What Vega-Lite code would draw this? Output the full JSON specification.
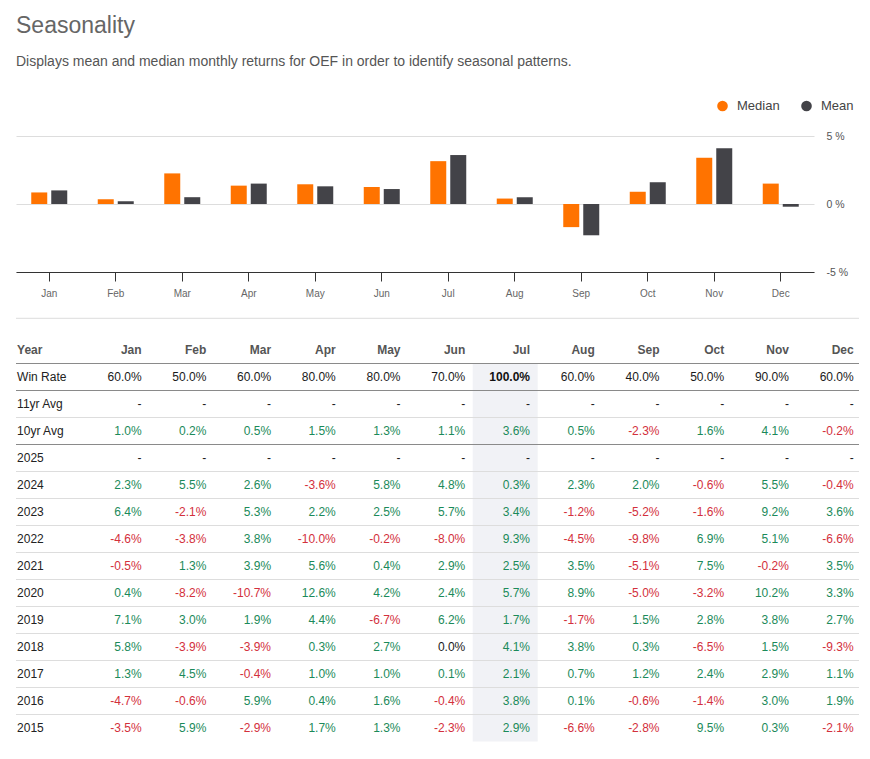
{
"$schema": "https://vega.github.io/schema/vega-lite/v6.json",
"background": "white",
"padding": {"left": 15, "top": 15, "right": 10, "bottom": 10},
"bounds": "flush",
"spacing": 64.5,
"title": {"text": "Seasonality", "subtitle": "Displays mean and median monthly returns for OEF in order to identify seasonal patterns.", "anchor": "start", "frame": "group", "fontSize": 23, "fontWeight": "normal", "color": "#666666", "subtitleFontSize": 14, "subtitleColor": "#555555", "subtitlePadding": 17, "offset": 30, "dx": 0, "font": "Liberation Sans", "subtitleFont": "Liberation Sans"},
"datasets": {
"bars": [
{"month":"Jan","series":"Median","value":0.85},{"month":"Jan","series":"Mean","value":1.0},
{"month":"Feb","series":"Median","value":0.35},{"month":"Feb","series":"Mean","value":0.2},
{"month":"Mar","series":"Median","value":2.25},{"month":"Mar","series":"Mean","value":0.5},
{"month":"Apr","series":"Median","value":1.35},{"month":"Apr","series":"Mean","value":1.5},
{"month":"May","series":"Median","value":1.45},{"month":"May","series":"Mean","value":1.3},
{"month":"Jun","series":"Median","value":1.25},{"month":"Jun","series":"Mean","value":1.1},
{"month":"Jul","series":"Median","value":3.15},{"month":"Jul","series":"Mean","value":3.6},
{"month":"Aug","series":"Median","value":0.4},{"month":"Aug","series":"Mean","value":0.5},
{"month":"Sep","series":"Median","value":-1.7},{"month":"Sep","series":"Mean","value":-2.3},
{"month":"Oct","series":"Median","value":0.9},{"month":"Oct","series":"Mean","value":1.6},
{"month":"Nov","series":"Median","value":3.4},{"month":"Nov","series":"Mean","value":4.1},
{"month":"Dec","series":"Median","value":1.5},{"month":"Dec","series":"Mean","value":-0.2}
],
"lines": [
{"row":"Header","kind":"sep"},
{"row":"Win Rate","kind":"dark"},{"row":"11yr Avg","kind":"dark"},{"row":"2025","kind":"dark"},
{"row":"10yr Avg","kind":"light"},{"row":"2024","kind":"light"},{"row":"2023","kind":"light"},{"row":"2022","kind":"light"},{"row":"2021","kind":"light"},{"row":"2020","kind":"light"},{"row":"2019","kind":"light"},{"row":"2018","kind":"light"},{"row":"2017","kind":"light"},{"row":"2016","kind":"light"},{"row":"2015","kind":"light"}
],
"cells": [
{"row":"Header","col":"Year","text":"Year","tone":"headL"},
{"row":"Header","col":"Jan","text":"Jan","tone":"head"},{"row":"Header","col":"Feb","text":"Feb","tone":"head"},{"row":"Header","col":"Mar","text":"Mar","tone":"head"},{"row":"Header","col":"Apr","text":"Apr","tone":"head"},{"row":"Header","col":"May","text":"May","tone":"head"},{"row":"Header","col":"Jun","text":"Jun","tone":"head"},{"row":"Header","col":"Jul","text":"Jul","tone":"head"},{"row":"Header","col":"Aug","text":"Aug","tone":"head"},{"row":"Header","col":"Sep","text":"Sep","tone":"head"},{"row":"Header","col":"Oct","text":"Oct","tone":"head"},{"row":"Header","col":"Nov","text":"Nov","tone":"head"},{"row":"Header","col":"Dec","text":"Dec","tone":"head"},

{"row":"Win Rate","col":"Year","text":"Win Rate","tone":"yr"},
{"row":"Win Rate","col":"Jan","text":"60.0%","tone":"z"},{"row":"Win Rate","col":"Feb","text":"50.0%","tone":"z"},{"row":"Win Rate","col":"Mar","text":"60.0%","tone":"z"},{"row":"Win Rate","col":"Apr","text":"80.0%","tone":"z"},{"row":"Win Rate","col":"May","text":"80.0%","tone":"z"},{"row":"Win Rate","col":"Jun","text":"70.0%","tone":"z"},{"row":"Win Rate","col":"Jul","text":"100.0%","tone":"b"},{"row":"Win Rate","col":"Aug","text":"60.0%","tone":"z"},{"row":"Win Rate","col":"Sep","text":"40.0%","tone":"z"},{"row":"Win Rate","col":"Oct","text":"50.0%","tone":"z"},{"row":"Win Rate","col":"Nov","text":"90.0%","tone":"z"},{"row":"Win Rate","col":"Dec","text":"60.0%","tone":"z"},

{"row":"11yr Avg","col":"Year","text":"11yr Avg","tone":"yr"},
{"row":"11yr Avg","col":"Jan","text":"-","tone":"z"},{"row":"11yr Avg","col":"Feb","text":"-","tone":"z"},{"row":"11yr Avg","col":"Mar","text":"-","tone":"z"},{"row":"11yr Avg","col":"Apr","text":"-","tone":"z"},{"row":"11yr Avg","col":"May","text":"-","tone":"z"},{"row":"11yr Avg","col":"Jun","text":"-","tone":"z"},{"row":"11yr Avg","col":"Jul","text":"-","tone":"z"},{"row":"11yr Avg","col":"Aug","text":"-","tone":"z"},{"row":"11yr Avg","col":"Sep","text":"-","tone":"z"},{"row":"11yr Avg","col":"Oct","text":"-","tone":"z"},{"row":"11yr Avg","col":"Nov","text":"-","tone":"z"},{"row":"11yr Avg","col":"Dec","text":"-","tone":"z"},

{"row":"10yr Avg","col":"Year","text":"10yr Avg","tone":"yr"},
{"row":"10yr Avg","col":"Jan","text":"1.0%","tone":"p"},{"row":"10yr Avg","col":"Feb","text":"0.2%","tone":"p"},{"row":"10yr Avg","col":"Mar","text":"0.5%","tone":"p"},{"row":"10yr Avg","col":"Apr","text":"1.5%","tone":"p"},{"row":"10yr Avg","col":"May","text":"1.3%","tone":"p"},{"row":"10yr Avg","col":"Jun","text":"1.1%","tone":"p"},{"row":"10yr Avg","col":"Jul","text":"3.6%","tone":"p"},{"row":"10yr Avg","col":"Aug","text":"0.5%","tone":"p"},{"row":"10yr Avg","col":"Sep","text":"-2.3%","tone":"n"},{"row":"10yr Avg","col":"Oct","text":"1.6%","tone":"p"},{"row":"10yr Avg","col":"Nov","text":"4.1%","tone":"p"},{"row":"10yr Avg","col":"Dec","text":"-0.2%","tone":"n"},

{"row":"2025","col":"Year","text":"2025","tone":"yr"},
{"row":"2025","col":"Jan","text":"-","tone":"z"},{"row":"2025","col":"Feb","text":"-","tone":"z"},{"row":"2025","col":"Mar","text":"-","tone":"z"},{"row":"2025","col":"Apr","text":"-","tone":"z"},{"row":"2025","col":"May","text":"-","tone":"z"},{"row":"2025","col":"Jun","text":"-","tone":"z"},{"row":"2025","col":"Jul","text":"-","tone":"z"},{"row":"2025","col":"Aug","text":"-","tone":"z"},{"row":"2025","col":"Sep","text":"-","tone":"z"},{"row":"2025","col":"Oct","text":"-","tone":"z"},{"row":"2025","col":"Nov","text":"-","tone":"z"},{"row":"2025","col":"Dec","text":"-","tone":"z"},

{"row":"2024","col":"Year","text":"2024","tone":"yr"},
{"row":"2024","col":"Jan","text":"2.3%","tone":"p"},{"row":"2024","col":"Feb","text":"5.5%","tone":"p"},{"row":"2024","col":"Mar","text":"2.6%","tone":"p"},{"row":"2024","col":"Apr","text":"-3.6%","tone":"n"},{"row":"2024","col":"May","text":"5.8%","tone":"p"},{"row":"2024","col":"Jun","text":"4.8%","tone":"p"},{"row":"2024","col":"Jul","text":"0.3%","tone":"p"},{"row":"2024","col":"Aug","text":"2.3%","tone":"p"},{"row":"2024","col":"Sep","text":"2.0%","tone":"p"},{"row":"2024","col":"Oct","text":"-0.6%","tone":"n"},{"row":"2024","col":"Nov","text":"5.5%","tone":"p"},{"row":"2024","col":"Dec","text":"-0.4%","tone":"n"},

{"row":"2023","col":"Year","text":"2023","tone":"yr"},
{"row":"2023","col":"Jan","text":"6.4%","tone":"p"},{"row":"2023","col":"Feb","text":"-2.1%","tone":"n"},{"row":"2023","col":"Mar","text":"5.3%","tone":"p"},{"row":"2023","col":"Apr","text":"2.2%","tone":"p"},{"row":"2023","col":"May","text":"2.5%","tone":"p"},{"row":"2023","col":"Jun","text":"5.7%","tone":"p"},{"row":"2023","col":"Jul","text":"3.4%","tone":"p"},{"row":"2023","col":"Aug","text":"-1.2%","tone":"n"},{"row":"2023","col":"Sep","text":"-5.2%","tone":"n"},{"row":"2023","col":"Oct","text":"-1.6%","tone":"n"},{"row":"2023","col":"Nov","text":"9.2%","tone":"p"},{"row":"2023","col":"Dec","text":"3.6%","tone":"p"},

{"row":"2022","col":"Year","text":"2022","tone":"yr"},
{"row":"2022","col":"Jan","text":"-4.6%","tone":"n"},{"row":"2022","col":"Feb","text":"-3.8%","tone":"n"},{"row":"2022","col":"Mar","text":"3.8%","tone":"p"},{"row":"2022","col":"Apr","text":"-10.0%","tone":"n"},{"row":"2022","col":"May","text":"-0.2%","tone":"n"},{"row":"2022","col":"Jun","text":"-8.0%","tone":"n"},{"row":"2022","col":"Jul","text":"9.3%","tone":"p"},{"row":"2022","col":"Aug","text":"-4.5%","tone":"n"},{"row":"2022","col":"Sep","text":"-9.8%","tone":"n"},{"row":"2022","col":"Oct","text":"6.9%","tone":"p"},{"row":"2022","col":"Nov","text":"5.1%","tone":"p"},{"row":"2022","col":"Dec","text":"-6.6%","tone":"n"},

{"row":"2021","col":"Year","text":"2021","tone":"yr"},
{"row":"2021","col":"Jan","text":"-0.5%","tone":"n"},{"row":"2021","col":"Feb","text":"1.3%","tone":"p"},{"row":"2021","col":"Mar","text":"3.9%","tone":"p"},{"row":"2021","col":"Apr","text":"5.6%","tone":"p"},{"row":"2021","col":"May","text":"0.4%","tone":"p"},{"row":"2021","col":"Jun","text":"2.9%","tone":"p"},{"row":"2021","col":"Jul","text":"2.5%","tone":"p"},{"row":"2021","col":"Aug","text":"3.5%","tone":"p"},{"row":"2021","col":"Sep","text":"-5.1%","tone":"n"},{"row":"2021","col":"Oct","text":"7.5%","tone":"p"},{"row":"2021","col":"Nov","text":"-0.2%","tone":"n"},{"row":"2021","col":"Dec","text":"3.5%","tone":"p"},

{"row":"2020","col":"Year","text":"2020","tone":"yr"},
{"row":"2020","col":"Jan","text":"0.4%","tone":"p"},{"row":"2020","col":"Feb","text":"-8.2%","tone":"n"},{"row":"2020","col":"Mar","text":"-10.7%","tone":"n"},{"row":"2020","col":"Apr","text":"12.6%","tone":"p"},{"row":"2020","col":"May","text":"4.2%","tone":"p"},{"row":"2020","col":"Jun","text":"2.4%","tone":"p"},{"row":"2020","col":"Jul","text":"5.7%","tone":"p"},{"row":"2020","col":"Aug","text":"8.9%","tone":"p"},{"row":"2020","col":"Sep","text":"-5.0%","tone":"n"},{"row":"2020","col":"Oct","text":"-3.2%","tone":"n"},{"row":"2020","col":"Nov","text":"10.2%","tone":"p"},{"row":"2020","col":"Dec","text":"3.3%","tone":"p"},

{"row":"2019","col":"Year","text":"2019","tone":"yr"},
{"row":"2019","col":"Jan","text":"7.1%","tone":"p"},{"row":"2019","col":"Feb","text":"3.0%","tone":"p"},{"row":"2019","col":"Mar","text":"1.9%","tone":"p"},{"row":"2019","col":"Apr","text":"4.4%","tone":"p"},{"row":"2019","col":"May","text":"-6.7%","tone":"n"},{"row":"2019","col":"Jun","text":"6.2%","tone":"p"},{"row":"2019","col":"Jul","text":"1.7%","tone":"p"},{"row":"2019","col":"Aug","text":"-1.7%","tone":"n"},{"row":"2019","col":"Sep","text":"1.5%","tone":"p"},{"row":"2019","col":"Oct","text":"2.8%","tone":"p"},{"row":"2019","col":"Nov","text":"3.8%","tone":"p"},{"row":"2019","col":"Dec","text":"2.7%","tone":"p"},

{"row":"2018","col":"Year","text":"2018","tone":"yr"},
{"row":"2018","col":"Jan","text":"5.8%","tone":"p"},{"row":"2018","col":"Feb","text":"-3.9%","tone":"n"},{"row":"2018","col":"Mar","text":"-3.9%","tone":"n"},{"row":"2018","col":"Apr","text":"0.3%","tone":"p"},{"row":"2018","col":"May","text":"2.7%","tone":"p"},{"row":"2018","col":"Jun","text":"0.0%","tone":"z"},{"row":"2018","col":"Jul","text":"4.1%","tone":"p"},{"row":"2018","col":"Aug","text":"3.8%","tone":"p"},{"row":"2018","col":"Sep","text":"0.3%","tone":"p"},{"row":"2018","col":"Oct","text":"-6.5%","tone":"n"},{"row":"2018","col":"Nov","text":"1.5%","tone":"p"},{"row":"2018","col":"Dec","text":"-9.3%","tone":"n"},

{"row":"2017","col":"Year","text":"2017","tone":"yr"},
{"row":"2017","col":"Jan","text":"1.3%","tone":"p"},{"row":"2017","col":"Feb","text":"4.5%","tone":"p"},{"row":"2017","col":"Mar","text":"-0.4%","tone":"n"},{"row":"2017","col":"Apr","text":"1.0%","tone":"p"},{"row":"2017","col":"May","text":"1.0%","tone":"p"},{"row":"2017","col":"Jun","text":"0.1%","tone":"p"},{"row":"2017","col":"Jul","text":"2.1%","tone":"p"},{"row":"2017","col":"Aug","text":"0.7%","tone":"p"},{"row":"2017","col":"Sep","text":"1.2%","tone":"p"},{"row":"2017","col":"Oct","text":"2.4%","tone":"p"},{"row":"2017","col":"Nov","text":"2.9%","tone":"p"},{"row":"2017","col":"Dec","text":"1.1%","tone":"p"},

{"row":"2016","col":"Year","text":"2016","tone":"yr"},
{"row":"2016","col":"Jan","text":"-4.7%","tone":"n"},{"row":"2016","col":"Feb","text":"-0.6%","tone":"n"},{"row":"2016","col":"Mar","text":"5.9%","tone":"p"},{"row":"2016","col":"Apr","text":"0.4%","tone":"p"},{"row":"2016","col":"May","text":"1.6%","tone":"p"},{"row":"2016","col":"Jun","text":"-0.4%","tone":"n"},{"row":"2016","col":"Jul","text":"3.8%","tone":"p"},{"row":"2016","col":"Aug","text":"0.1%","tone":"p"},{"row":"2016","col":"Sep","text":"-0.6%","tone":"n"},{"row":"2016","col":"Oct","text":"-1.4%","tone":"n"},{"row":"2016","col":"Nov","text":"3.0%","tone":"p"},{"row":"2016","col":"Dec","text":"1.9%","tone":"p"},

{"row":"2015","col":"Year","text":"2015","tone":"yr"},
{"row":"2015","col":"Jan","text":"-3.5%","tone":"n"},{"row":"2015","col":"Feb","text":"5.9%","tone":"p"},{"row":"2015","col":"Mar","text":"-2.9%","tone":"n"},{"row":"2015","col":"Apr","text":"1.7%","tone":"p"},{"row":"2015","col":"May","text":"1.3%","tone":"p"},{"row":"2015","col":"Jun","text":"-2.3%","tone":"n"},{"row":"2015","col":"Jul","text":"2.9%","tone":"p"},{"row":"2015","col":"Aug","text":"-6.6%","tone":"n"},{"row":"2015","col":"Sep","text":"-2.8%","tone":"n"},{"row":"2015","col":"Oct","text":"9.5%","tone":"p"},{"row":"2015","col":"Nov","text":"0.3%","tone":"p"},{"row":"2015","col":"Dec","text":"-2.1%","tone":"n"}
]
},
"vconcat": [
{
"width": 798, "height": 136,
"data": {"name": "bars"},
"mark": {"type": "bar"},
"encoding": {
"x": {"field": "month", "type": "nominal", "sort": ["Jan","Feb","Mar","Apr","May","Jun","Jul","Aug","Sep","Oct","Nov","Dec"], "scale": {"paddingInner": 0.4586, "paddingOuter": 0.2293}, "axis": {"title": null, "labelAngle": 0, "domainColor": "#333333", "tickColor": "#333333", "tickSize": 9, "labelPadding": 7, "labelFontSize": 10, "labelColor": "#666666", "grid": false, "labelFont": "Liberation Sans"}},
"xOffset": {"field": "series", "type": "nominal", "sort": ["Median","Mean"], "scale": {"paddingInner": 0.2, "paddingOuter": 0}},
"y": {"field": "value", "type": "quantitative", "scale": {"domain": [-5, 5], "nice": false}, "axis": {"orient": "right", "values": [-5, 0, 5], "title": null, "domain": false, "ticks": false, "labelPadding": 12, "labelFontSize": 10.5, "labelColor": "#555555", "gridColor": "#dddddd", "labelExpr": "datum.value + ' %'", "labelFont": "Liberation Sans"}},
"color": {"field": "series", "type": "nominal", "scale": {"domain": ["Median","Mean"], "range": ["#ff7300","#434348"]}, "legend": {"orient": "none", "legendX": 700, "legendY": -36.7, "direction": "horizontal", "title": null, "symbolType": "circle", "symbolSize": 113, "labelFontSize": 13, "labelColor": "#444444", "columnPadding": 20, "labelOffset": 8, "padding": 0, "labelFont": "Liberation Sans"}}
}
},
{
"width": 843, "height": 405,
"data": {"name": "cells"},
"layer": [
{
"data": {"name": "lines"},
"transform": [{"filter": "datum.kind == 'sep'"}],
"mark": {"type": "rule", "color": "#dddddd", "strokeWidth": 1, "yOffset": -18.2},
"encoding": {"y": {"field": "row", "type": "nominal", "bandPosition": 0, "scale": {"domain": ["Header","Win Rate","11yr Avg","10yr Avg","2025","2024","2023","2022","2021","2020","2019","2018","2017","2016","2015"], "paddingInner": 0, "paddingOuter": 0}, "axis": null}}
},
{
"transform": [{"filter": "datum.col == 'Jul' && datum.row != 'Header'"}],
"mark": {"type": "rect", "width": 65, "xOffset": -24.8, "color": "#f1f2f6"},
"encoding": {
"x": {"field": "col", "type": "nominal", "scale": {"type": "point", "domain": ["Year","_","Jan","Feb","Mar","Apr","May","Jun","Jul","Aug","Sep","Oct","Nov","Dec"], "range": [-3.9, 837.7], "padding": 0}, "axis": null},
"y": {"field": "row", "type": "nominal", "scale": {"domain": ["Header","Win Rate","11yr Avg","10yr Avg","2025","2024","2023","2022","2021","2020","2019","2018","2017","2016","2015"], "paddingInner": 0, "paddingOuter": 0}, "axis": null}
}
},
{
"data": {"name": "lines"},
"transform": [{"filter": "datum.kind == 'light'"}],
"mark": {"type": "rule", "color": "#dddddd", "strokeWidth": 1},
"encoding": {"y": {"field": "row", "type": "nominal", "bandPosition": 0, "scale": {"domain": ["Header","Win Rate","11yr Avg","10yr Avg","2025","2024","2023","2022","2021","2020","2019","2018","2017","2016","2015"], "paddingInner": 0, "paddingOuter": 0}, "axis": null}}
},
{
"data": {"name": "lines"},
"transform": [{"filter": "datum.kind == 'dark'"}],
"mark": {"type": "rule", "color": "#8a8a8a", "strokeWidth": 1.2},
"encoding": {"y": {"field": "row", "type": "nominal", "bandPosition": 0, "scale": {"domain": ["Header","Win Rate","11yr Avg","10yr Avg","2025","2024","2023","2022","2021","2020","2019","2018","2017","2016","2015"], "paddingInner": 0, "paddingOuter": 0}, "axis": null}}
},
{
"transform": [{"filter": "datum.tone == 'head'"}],
"mark": {"type": "text", "align": "right", "baseline": "middle", "fontSize": 12, "fontWeight": "bold", "color": "#555555", "font": "Liberation Sans"},
"encoding": {
"x": {"field": "col", "type": "nominal", "scale": {"type": "point", "domain": ["Year","_","Jan","Feb","Mar","Apr","May","Jun","Jul","Aug","Sep","Oct","Nov","Dec"], "range": [-3.9, 837.7], "padding": 0}, "axis": null},
"y": {"field": "row", "type": "nominal", "scale": {"domain": ["Header","Win Rate","11yr Avg","10yr Avg","2025","2024","2023","2022","2021","2020","2019","2018","2017","2016","2015"], "paddingInner": 0, "paddingOuter": 0}, "axis": null},
"text": {"field": "text"}
}
},
{
"transform": [{"filter": "datum.tone == 'headL'"}],
"mark": {"type": "text", "align": "left", "baseline": "middle", "dx": 5, "fontSize": 12, "fontWeight": "bold", "color": "#555555", "font": "Liberation Sans"},
"encoding": {
"x": {"field": "col", "type": "nominal", "scale": {"type": "point", "domain": ["Year","_","Jan","Feb","Mar","Apr","May","Jun","Jul","Aug","Sep","Oct","Nov","Dec"], "range": [-3.9, 837.7], "padding": 0}, "axis": null},
"y": {"field": "row", "type": "nominal", "scale": {"domain": ["Header","Win Rate","11yr Avg","10yr Avg","2025","2024","2023","2022","2021","2020","2019","2018","2017","2016","2015"], "paddingInner": 0, "paddingOuter": 0}, "axis": null},
"text": {"field": "text"}
}
},
{
"transform": [{"filter": "datum.tone == 'yr'"}],
"mark": {"type": "text", "align": "left", "baseline": "middle", "dx": 5, "fontSize": 12, "color": "#222222", "font": "Liberation Sans"},
"encoding": {
"x": {"field": "col", "type": "nominal", "scale": {"type": "point", "domain": ["Year","_","Jan","Feb","Mar","Apr","May","Jun","Jul","Aug","Sep","Oct","Nov","Dec"], "range": [-3.9, 837.7], "padding": 0}, "axis": null},
"y": {"field": "row", "type": "nominal", "scale": {"domain": ["Header","Win Rate","11yr Avg","10yr Avg","2025","2024","2023","2022","2021","2020","2019","2018","2017","2016","2015"], "paddingInner": 0, "paddingOuter": 0}, "axis": null},
"text": {"field": "text"}
}
},
{
"transform": [{"filter": "datum.tone == 'p' || datum.tone == 'n' || datum.tone == 'z'"}],
"mark": {"type": "text", "align": "right", "baseline": "middle", "fontSize": 12, "font": "Liberation Sans"},
"encoding": {
"x": {"field": "col", "type": "nominal", "scale": {"type": "point", "domain": ["Year","_","Jan","Feb","Mar","Apr","May","Jun","Jul","Aug","Sep","Oct","Nov","Dec"], "range": [-3.9, 837.7], "padding": 0}, "axis": null},
"y": {"field": "row", "type": "nominal", "scale": {"domain": ["Header","Win Rate","11yr Avg","10yr Avg","2025","2024","2023","2022","2021","2020","2019","2018","2017","2016","2015"], "paddingInner": 0, "paddingOuter": 0}, "axis": null},
"text": {"field": "text"},
"color": {"condition": [{"test": "datum.tone == 'p'", "value": "#1b8a5a"}, {"test": "datum.tone == 'n'", "value": "#d3303c"}], "value": "#1a1a1a"}
}
},
{
"transform": [{"filter": "datum.tone == 'b'"}],
"mark": {"type": "text", "align": "right", "baseline": "middle", "fontSize": 12, "fontWeight": "bold", "color": "#111111", "font": "Liberation Sans"},
"encoding": {
"x": {"field": "col", "type": "nominal", "scale": {"type": "point", "domain": ["Year","_","Jan","Feb","Mar","Apr","May","Jun","Jul","Aug","Sep","Oct","Nov","Dec"], "range": [-3.9, 837.7], "padding": 0}, "axis": null},
"y": {"field": "row", "type": "nominal", "scale": {"domain": ["Header","Win Rate","11yr Avg","10yr Avg","2025","2024","2023","2022","2021","2020","2019","2018","2017","2016","2015"], "paddingInner": 0, "paddingOuter": 0}, "axis": null},
"text": {"field": "text"}
}
}
]
}
],
"config": {"view": {"stroke": null}, "font": "Liberation Sans"}
}
